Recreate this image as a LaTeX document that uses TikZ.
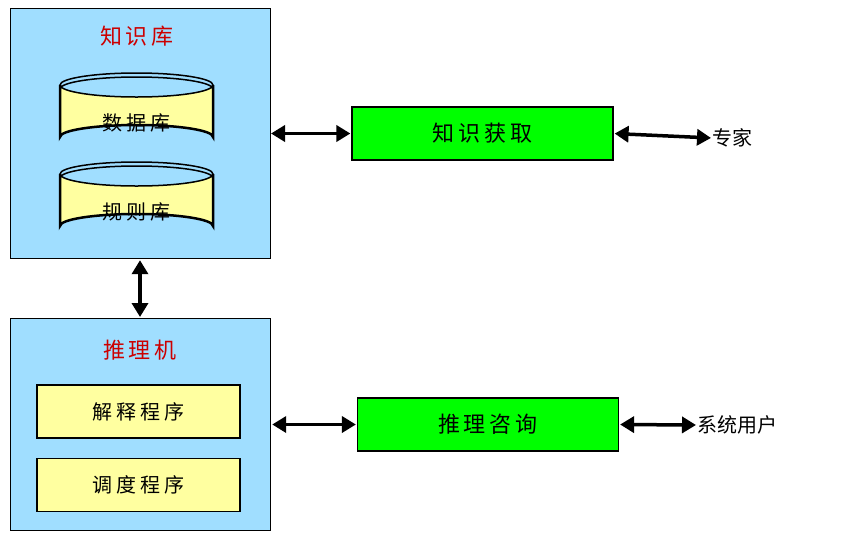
\documentclass[tikz,border=0pt]{standalone}
\usepackage{fontspec}
\newfontfamily\cjk{Noto Sans CJK SC}
\usetikzlibrary{arrows.meta}
\definecolor{lb}{HTML}{A0DEFF}
\definecolor{cy}{HTML}{FFFFA0}
\definecolor{gr}{HTML}{00FF00}
\definecolor{rd}{HTML}{CC0000}
\newcommand\gp{\hspace{4pt}}
\begin{document}
\begin{tikzpicture}[x=1pt,y=-1pt,
  panel/.style={draw=black,line width=1.2pt,fill=lb},
  green/.style={draw=black,line width=1.2pt,fill=gr,minimum width=261pt,minimum height=53pt,font=\cjk\fontsize{22}{24}\selectfont},
  prog/.style={draw=black,line width=1.2pt,fill=cy,minimum width=203pt,minimum height=53pt,font=\cjk\fontsize{20}{22}\selectfont},
  title/.style={font=\cjk\fontsize{22}{24}\selectfont,text=rd},
  lbl/.style={font=\cjk\fontsize{20}{22}\selectfont},
  dbl/.style={line width=3.5pt,{Triangle[length=14pt,width=16pt]}-{Triangle[length=14pt,width=16pt]},shorten <=1pt,shorten >=1pt}]
\useasboundingbox (0,0) rectangle (865,539);
\fill[white] (0,0) rectangle (865,539);
% panels
\node[panel,minimum width=260pt,minimum height=250pt,anchor=north west,inner sep=0] (kb) at (10,8) {};
\node[panel,minimum width=260pt,minimum height=212pt,anchor=north west,inner sep=0] (ie) at (10,318) {};
\node[title] (kbt) at (137,36) {知\gp 识\gp 库};
\node[title] (iet) at (140,350) {推\gp 理\gp 机};
% cylinders
\foreach \n/\t/\y in {c1/数\gp 据\gp 库/85, c2/规\gp 则\gp 库/174}{
  \fill[cy] (60,\y) -- (60,\y+52) arc[start angle=180,end angle=360,x radius=76.5,y radius=12] -- (213,\y) arc[start angle=0,end angle=180,x radius=76.5,y radius=12] -- cycle;
  \draw[line width=2.5pt] (60,\y) -- (60,\y+52) arc[start angle=180,end angle=360,x radius=76.5,y radius=12] -- (213,\y);
  \draw[line width=1.5pt] (136.5,\y) ellipse[x radius=76.5,y radius=12];
  \draw[line width=1.5pt] (60,\y+4) arc[start angle=180,end angle=360,x radius=76.5,y radius=12];
  \node[lbl] (\n) at (136.5,\y+38) {\t};
}
\node[prog] (p1) at (138.5,411.5) {解\gp 释\gp 程\gp 序};
\node[prog] (p2) at (138.5,485) {调\gp 度\gp 程\gp 序};
% green
\node[green] (g1) at (482.5,133.5) {知\gp 识\gp 获\gp 取};
\node[green] (g2) at (488,424.5) {推\gp 理\gp 咨\gp 询};
\node[lbl,anchor=west,inner sep=0] (ex) at (712,138) {专家};
\node[lbl,anchor=west,inner sep=0] (us) at (697,425) {系统用户};
\coordinate (k1) at (270,133.5);
\coordinate (k2) at (270,424.5);
\draw[dbl] (k1) -- (g1.west);
\draw[dbl] (g1.east) -- (ex.west);
\draw[dbl] (k2 -| ie.east) -- (g2.west);
\draw[dbl] (g2.east) -- (us.west);
\draw[dbl] (kb.south -| 140,0) -- (ie.north -| 140,0);
\end{tikzpicture}
\end{document}
